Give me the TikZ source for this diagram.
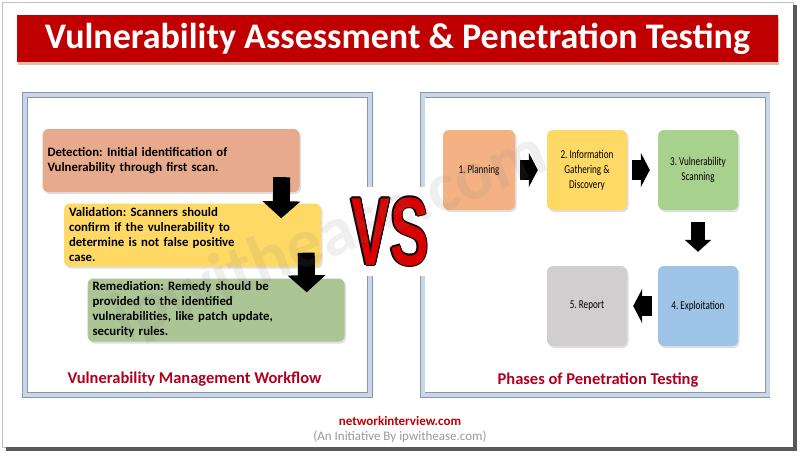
\documentclass[tikz,border=0pt]{standalone}
\usepackage{fontspec}
\setmainfont{Carlito}
\newfontfamily\narrowfont[FakeStretch=0.76]{Carlito}
\newfontfamily\vsfont[FakeStretch=0.6]{Liberation Sans}
\usetikzlibrary{arrows.meta,shadows}
\frenchspacing

\definecolor{titlered}{HTML}{C00000}
\definecolor{capred}{HTML}{B0001E}
\definecolor{detectcol}{HTML}{E8AA8C}
\definecolor{validcol}{HTML}{FFD966}
\definecolor{remedcol}{HTML}{ABC595}
\definecolor{plancol}{HTML}{F4B183}
\definecolor{infocol}{HTML}{FFD966}
\definecolor{scancol}{HTML}{A9D18E}
\definecolor{exploitcol}{HTML}{9DC3E6}
\definecolor{reportcol}{HTML}{D0CECE}
\definecolor{panelblue}{HTML}{C9D6EA}
\definecolor{panelgray}{HTML}{8C97A6}

\tikzset{
  titlebar/.style={fill=titlered, text=white, minimum width=761pt, minimum height=47pt,
    font=\bfseries\fontsize{36}{40}\selectfont,
    drop shadow={opacity=0.35, fill=orange!60!black, shadow xshift=1pt, shadow yshift=-3pt}},
  panel/.style={draw=panelgray, double=panelblue, double distance=4pt, line width=0.8pt,
    minimum width=345pt, minimum height=300pt, fill=white,
    drop shadow={opacity=0.5, shadow xshift=2pt, shadow yshift=-2pt}},
  stepbox/.style={rounded corners=6pt, text width=247pt, inner xsep=5pt, minimum height=63pt,
    align=left, font=\bfseries\fontsize{12.8}{15}\selectfont,
    drop shadow={opacity=0.25, shadow xshift=1.5pt, shadow yshift=-2pt}},
  phasebox/.style={rounded corners=6pt, minimum width=80pt, minimum height=80pt,
    align=center, font=\narrowfont\fontsize{12}{15}\selectfont,
    drop shadow={opacity=0.25, shadow xshift=1.5pt, shadow yshift=-2pt}},
  caption/.style={text=capred, font=\bfseries\fontsize{16.5}{18}\selectfont},
  downblock/.style={line width=17pt, -{Triangle[width=37pt,length=17pt]}},
  sideblock/.style={line width=20pt, -{Triangle[width=34pt,length=9pt]}},
  vsletters/.style={font=\vsfont\bfseries\fontsize{97}{97}\selectfont, anchor=base, inner sep=0pt}
}

\begin{document}
\begin{tikzpicture}[x=1pt,y=-1pt]
    \useasboundingbox (0,0) rectangle (800,455);

    % Rahmen
    \fill[white] (0,0) rectangle (800,455);
    \draw[gray!50, line width=1pt] (2.5,2.5) rectangle (793,447);
    \fill[gray!70!black] (793,5) rectangle (797,451);
    \fill[gray!70!black] (6,447) rectangle (797,451);

    % Titel
    \node[titlebar] (title) at (397.5,38.5) {Vulnerability Assessment \& Penetration Testing};

    % Panels
    \node[panel] (wfpanel) at (197.5,245) {};
    \node[panel] (ptpanel) at (595,245) {};

    % Workflow (links)
    \node[stepbox, fill=detectcol] (det) at (171,160.5)
        {Detection: Initial identification of\\Vulnerability through first scan.};
    \node[stepbox, fill=validcol] (val) at (192.5,235)
        {Validation: Scanners should\\confirm if the vulnerability to\\determine is not false positive\\case.};
    \node[stepbox, fill=remedcol] (rem) at (216,310)
        {Remediation: Remedy should be\\provided to the identified\\vulnerabilities, like patch update,\\security rules.};
    \draw[downblock] ([shift={(-18,-15)}]det.south east) -- ([shift={(-40,15)}]val.north east);
    \draw[downblock] ([shift={(-15,-14)}]val.south east) -- ([shift={(-38,14)}]rem.north east);

    % Phasen (rechts)
    \node[phasebox, fill=plancol, minimum width=72pt] (plan) at (479,170) {1. Planning};
    \node[phasebox, fill=infocol] (info) at (587,170) {2. Information\\Gathering \&\\Discovery};
    \node[phasebox, fill=scancol] (scan) at (698,170) {3. Vulnerability\\Scanning};
    \node[phasebox, fill=exploitcol] (exploit) at (698,306) {4. Exploitation};
    \node[phasebox, fill=reportcol] (report) at (587,306) {5. Report};
    \foreach \a/\b/\e in {plan/info/9pt, info/scan/8pt}
        \draw[sideblock, shorten <=5pt, shorten >=\e] (\a) -- (\b);
    \draw[line width=14pt, -{Triangle[width=26pt,length=12pt]}, shorten <=12pt, shorten >=14pt] (scan) -- (exploit);
    \draw[sideblock, shorten <=6pt, shorten >=6pt] (exploit) -- (report);

    % Beschriftungen
    \node[caption] (wfcap) at (194.5,379) {Vulnerability Management Workflow};
    \node[caption] (ptcap) at (598,380) {Phases of Penetration Testing};

    % VS
    \fill[white] (347,187) rectangle (432,276);
    \foreach \dx/\dy in {1.3/0, -1.3/0, 0/1.3, 0/-1.3, 0.9/0.9, -0.9/0.9, 0.9/-0.9, -0.9/-0.9}
        \node[vsletters, text=black] at (390+\dx,265+\dy) {VS};
    \node[vsletters, text=red!85!black] (vs) at (390,265) {VS};

    % Wasserzeichen
    \node[rotate=22, text=gray, opacity=0.12, font=\bfseries\fontsize{70}{70}\selectfont] (wmark) at (330,238) {ipwithease.com};

    % Fusszeile
    \node[text=titlered, font=\bfseries\fontsize{13}{14}\selectfont] (site) at (400,421) {networkinterview.com};
    \node[text=gray!80, font=\fontsize{13}{14}\selectfont] (init) at (400,437) {(An Initiative By ipwithease.com)};
\end{tikzpicture}
\end{document}
